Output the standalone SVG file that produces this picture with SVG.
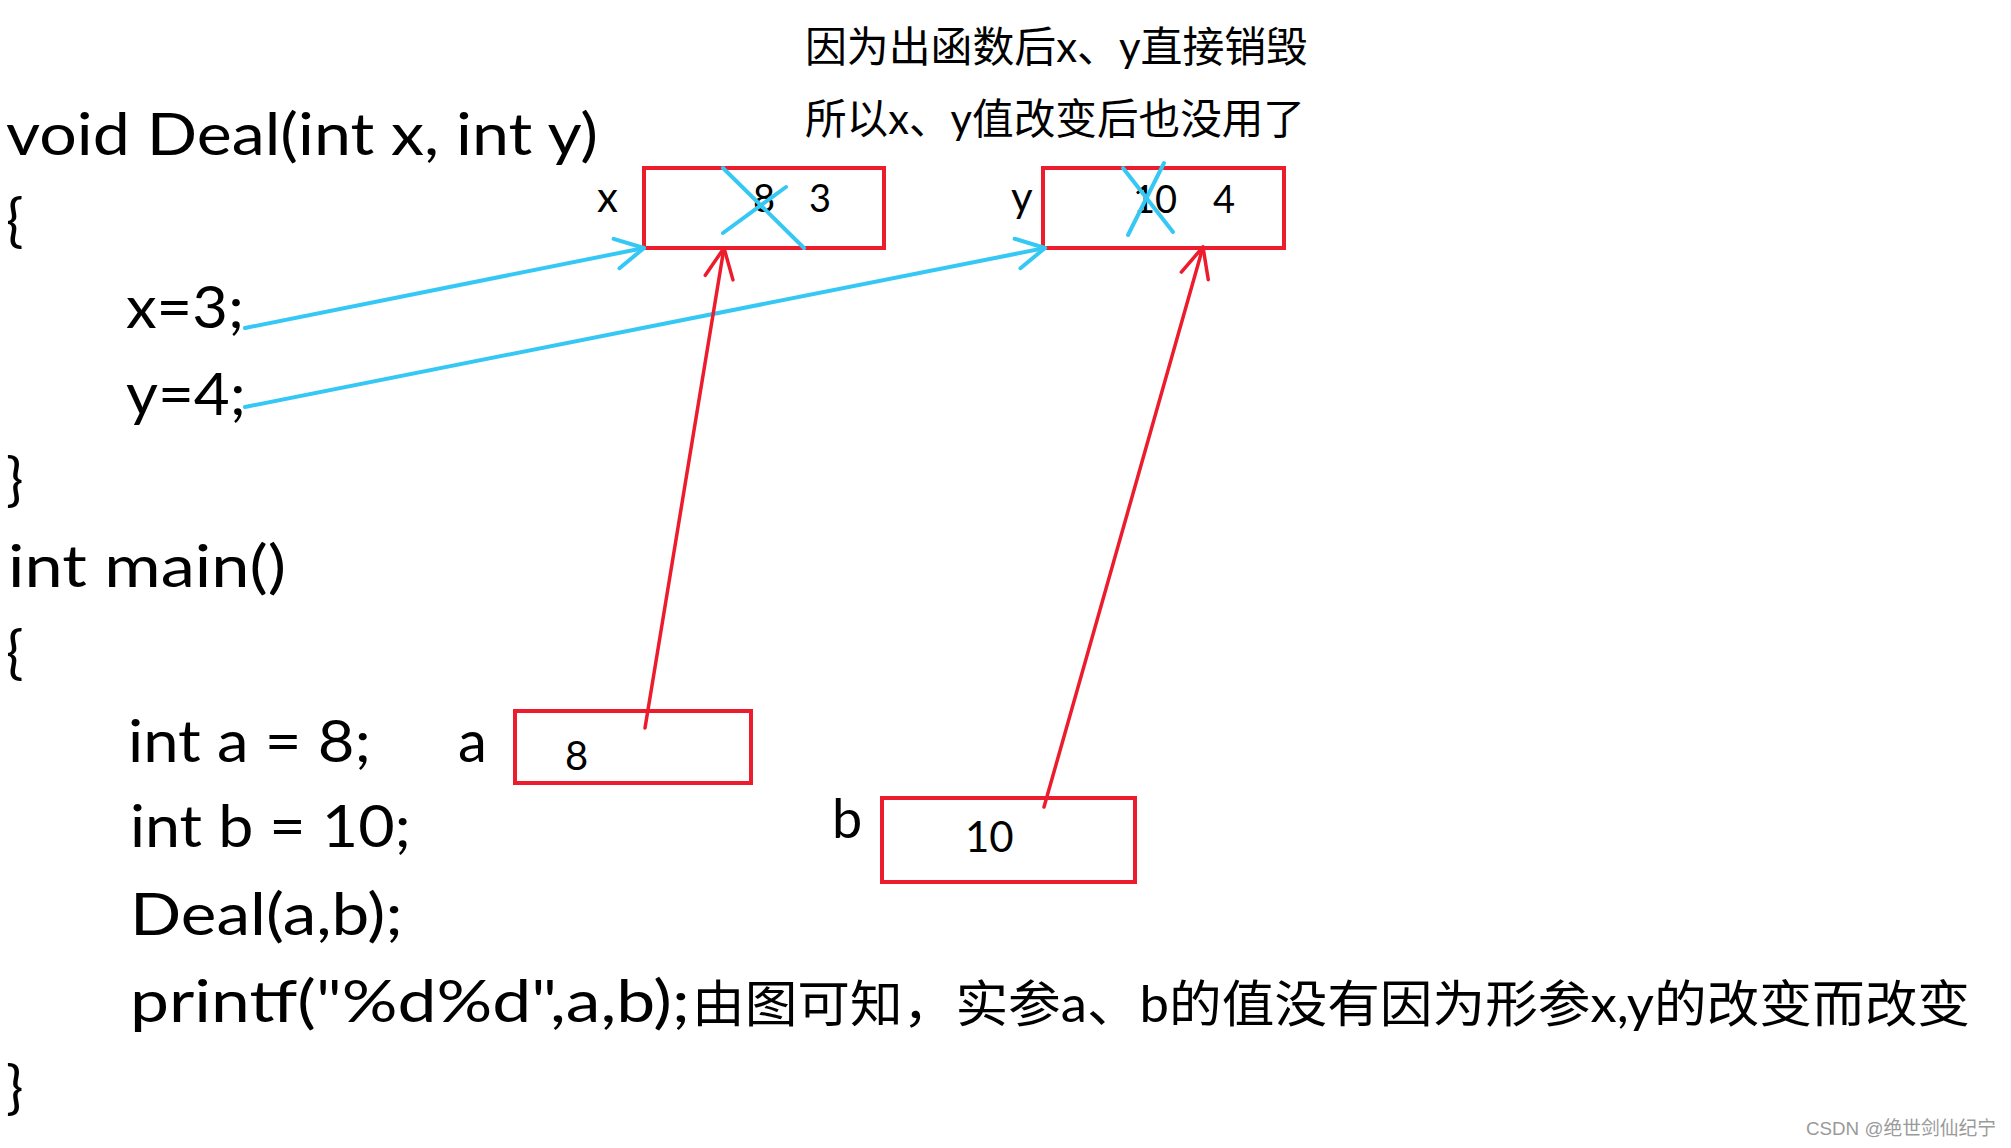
<svg xmlns="http://www.w3.org/2000/svg" width="2011" height="1148" viewBox="0 0 2011 1148">
<style>
.code{font-family:Lato,"Noto Sans CJK SC",sans-serif;font-size:58px;fill:#000}
.lbl{font-family:Lato,sans-serif;font-size:42px;fill:#000}
.val{font-family:Lato,sans-serif;font-size:38px;fill:#000}
.cjk{font-family:Lato,"Noto Sans CJK SC",sans-serif;font-size:42px;fill:#000}
.box{fill:none;stroke:#EC1C2D;stroke-width:4}
.blue{fill:none;stroke:#36C8F4;stroke-width:4;stroke-linecap:round}
.red{fill:none;stroke:#EC1C2D;stroke-width:3.5;stroke-linecap:round}
.mark{font-family:"Liberation Sans","Noto Sans CJK SC",sans-serif;font-size:19px;fill:#9a9a9a}
</style>
<defs>
<marker id="ab" markerUnits="userSpaceOnUse" viewBox="-34 -20 38 40" markerWidth="38" markerHeight="40" refX="0" refY="0" orient="auto" overflow="visible">
<path d="M-28,-15 L0,0 L-28,15" fill="none" stroke="#36C8F4" stroke-width="4" stroke-linecap="round" stroke-linejoin="round"/>
</marker>
<marker id="ar" markerUnits="userSpaceOnUse" viewBox="-34 -20 38 40" markerWidth="38" markerHeight="40" refX="0" refY="0" orient="auto" overflow="visible">
<path d="M-30,-14 L0,0 L-30,14" fill="none" stroke="#EC1C2D" stroke-width="3.5" stroke-linecap="round" stroke-linejoin="round"/>
</marker>
</defs>
<rect width="2011" height="1148" fill="#fff"/>

<g id="code">
<text class="code" x="6" y="155" textLength="592" lengthAdjust="spacingAndGlyphs">void Deal(int x, int y)</text>
<text class="code" x="6" y="241">{</text>
<text class="code" x="126" y="328" textLength="118" lengthAdjust="spacingAndGlyphs">x=3;</text>
<text class="code" x="126" y="415" textLength="120" lengthAdjust="spacingAndGlyphs">y=4;</text>
<text class="code" x="6" y="500">}</text>
<text class="code" x="8" y="587" textLength="278" lengthAdjust="spacingAndGlyphs">int main()</text>
<text class="code" x="6" y="673">{</text>
<text class="code" x="128" y="762" textLength="243" lengthAdjust="spacingAndGlyphs">int a = 8;</text>
<text class="code" x="130" y="847" textLength="281" lengthAdjust="spacingAndGlyphs">int b = 10;</text>
<text class="code" x="130" y="935" textLength="273" lengthAdjust="spacingAndGlyphs">Deal(a,b);</text>
<text class="code" x="130" y="1022" textLength="560" lengthAdjust="spacingAndGlyphs">printf("%d%d",a,b);</text>
<text class="code" x="692" y="1022" style="font-size:50px" textLength="1278" lengthAdjust="spacingAndGlyphs">由图可知，实参a、b的值没有因为形参x,y的改变而改变</text>
<text class="code" x="6" y="1108">}</text>
</g>

<g id="note">
<text class="cjk" x="805" y="62" textLength="503" lengthAdjust="spacingAndGlyphs">因为出函数后x、y直接销毁</text>
<text class="cjk" x="805" y="134" textLength="500" lengthAdjust="spacingAndGlyphs">所以x、y值改变后也没用了</text>
</g>

<g id="node-x">
<text class="lbl" x="597" y="212">x</text>
<rect class="box" x="644" y="168" width="240" height="80"/>
<text class="val" x="753" y="212">8</text>
<text class="val" x="809" y="212">3</text>
<line class="blue" x1="723" y1="168" x2="804" y2="248"/>
<line class="blue" x1="723" y1="233" x2="786" y2="187"/>
</g>

<g id="node-y">
<text class="lbl" x="1011" y="212">y</text>
<rect class="box" x="1043" y="168" width="241" height="80"/>
<text class="val" x="1133" y="213">10</text>
<text class="val" x="1213" y="213">4</text>
<line class="blue" x1="1123" y1="168" x2="1173" y2="232"/>
<line class="blue" x1="1128" y1="235" x2="1164" y2="163"/>
</g>

<g id="node-a">
<text class="code" x="458" y="762">a</text>
<rect class="box" x="515" y="711" width="236" height="72"/>
<text class="val" x="565" y="770" style="font-size:40px">8</text>
</g>

<g id="node-b">
<text class="code" x="832" y="838" style="font-size:54px">b</text>
<rect class="box" x="882" y="798" width="253" height="84"/>
<text class="val" x="965" y="852" style="font-size:42px">10</text>
</g>

<g id="connectors">
<line class="blue" x1="245" y1="328" x2="644" y2="248" marker-end="url(#ab)"/>
<line class="blue" x1="245" y1="407" x2="1045" y2="248" marker-end="url(#ab)"/>
<line class="red" x1="645" y1="728" x2="724" y2="248" marker-end="url(#ar)"/>
<line class="red" x1="1044" y1="807" x2="1203" y2="247" marker-end="url(#ar)"/>
</g>

<text class="mark" x="1806" y="1135" textLength="190" lengthAdjust="spacingAndGlyphs">CSDN @绝世剑仙纪宁</text>
</svg>
